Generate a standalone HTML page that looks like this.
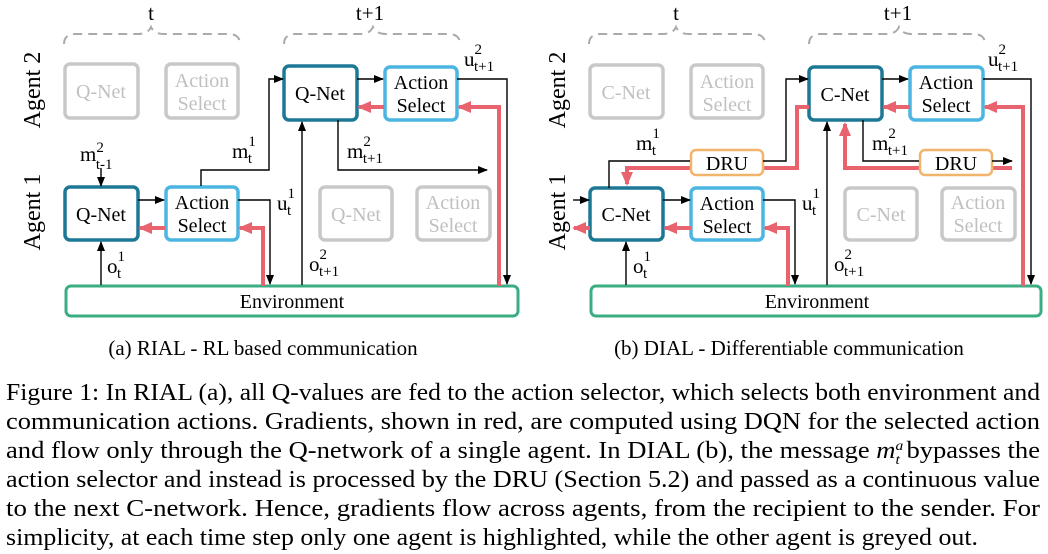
<!DOCTYPE html>
<html><head><meta charset="utf-8"><style>
html,body{margin:0;padding:0;background:#fff;}
svg{display:block;}
svg text, svg tspan{font-family:"Liberation Serif","Times New Roman",serif;}
</style></head><body>
<svg width="1048" height="554" viewBox="0 0 1048 554" xmlns="http://www.w3.org/2000/svg">
<defs>
<marker id="ab" markerWidth="10" markerHeight="8" refX="9" refY="4" orient="auto" markerUnits="userSpaceOnUse"><path d="M0,0 L10,4 L0,8 Z" fill="#000"/></marker>
<marker id="ar" markerWidth="14" markerHeight="12" refX="12" refY="6" orient="auto" markerUnits="userSpaceOnUse"><path d="M0,0 L14,6 L0,12 Z" fill="#e8636e"/></marker>
</defs>
<style>
.g{fill:#fff;stroke:#c8c8c8;stroke-width:3.5}
.gt{fill:#c0c0c0;font-size:20px;text-anchor:middle}
.d{fill:#fff;stroke:#1d7896;stroke-width:3.5}
.l{fill:#fff;stroke:#4cb6e2;stroke-width:3.5}
.bt{fill:#000;font-size:20px;text-anchor:middle}
.k{fill:none;stroke:#000;stroke-width:1.4}
.r{fill:none;stroke:#e8636e;stroke-width:4}
.env{fill:#fff;stroke:#3aae82;stroke-width:3}
.lb{font-size:21px;fill:#000}
.sb{font-size:15px}
.br{fill:none;stroke:#aaa;stroke-width:2;stroke-dasharray:9,6}
.o{fill:#fff;stroke:#f2b36a;stroke-width:2.5}
</style>

<!-- ===== LEFT PANEL ===== -->
<g>
<text x="151" y="20" class="lb" text-anchor="middle">t</text>
<path class="br" d="M64,44 Q64,34 76,34 L138,34 Q148,34 151,27 Q154,34 164,34 L228,34 Q240,34 240,44"/>
<text x="370" y="20" class="lb" text-anchor="middle">t+1</text>
<path class="br" d="M284,44 Q284,34 296,34 L360,34 Q370,34 373,27 Q376,34 386,34 L448,34 Q460,34 460,44"/>
<text transform="translate(40,90) rotate(-90)" font-size="24" text-anchor="middle">Agent 2</text>
<text transform="translate(40,212) rotate(-90)" font-size="24" text-anchor="middle">Agent 1</text>

<rect class="g" x="65" y="64" width="73" height="54" rx="5"/><text class="gt" x="101" y="98">Q-Net</text>
<rect class="g" x="166" y="64" width="72" height="54" rx="5"/><text class="gt" x="202" y="87">Action</text><text class="gt" x="202" y="110">Select</text>
<rect class="d" x="284" y="66" width="73" height="54" rx="5"/><text class="bt" x="320" y="100">Q-Net</text>
<rect class="l" x="385" y="67" width="72" height="53" rx="5"/><text class="bt" x="421" y="89">Action</text><text class="bt" x="421" y="112">Select</text>
<rect class="d" x="65" y="187" width="73" height="53" rx="5"/><text class="bt" x="101" y="221">Q-Net</text>
<rect class="l" x="166" y="187" width="72" height="53" rx="5"/><text class="bt" x="202" y="209">Action</text><text class="bt" x="202" y="232">Select</text>
<rect class="g" x="320" y="187" width="72" height="53" rx="5"/><text class="gt" x="356" y="221">Q-Net</text>
<rect class="g" x="417" y="187" width="73" height="53" rx="5"/><text class="gt" x="453" y="209">Action</text><text class="gt" x="453" y="232">Select</text>
<rect class="env" x="66" y="286" width="452" height="30" rx="5"/><text class="bt" x="292" y="308">Environment</text>

<line class="k" x1="138" y1="200" x2="164" y2="200" marker-end="url(#ab)"/>
<line class="r" x1="165" y1="228" x2="140" y2="228" marker-end="url(#ar)"/>
<line class="k" x1="101" y1="168" x2="101" y2="186" marker-end="url(#ab)"/>
<text x="80" y="161" class="lb">m<tspan class="sb" dy="-9">2</tspan><tspan class="sb" dx="-8" dy="17">t-1</tspan></text>
<line class="k" x1="101" y1="285" x2="101" y2="242" marker-end="url(#ab)"/>
<text x="107" y="273" class="lb">o<tspan class="sb" dy="-12">1</tspan><tspan class="sb" dx="-8" dy="17">t</tspan></text>
<path class="k" d="M238,200 L270,200 L270,284" marker-end="url(#ab)"/>
<text x="277" y="210" class="lb">u<tspan class="sb" dy="-12">1</tspan><tspan class="sb" dx="-8" dy="17">t</tspan></text>
<path class="r" d="M263,286 L263,228 L240,228" marker-end="url(#ar)"/>
<path class="k" d="M201,186 L201,170 L269,170 L269,79 L283,79" marker-end="url(#ab)"/>
<text x="232" y="158" class="lb">m<tspan class="sb" dy="-12">1</tspan><tspan class="sb" dx="-8" dy="17">t</tspan></text>
<line class="k" x1="357" y1="79" x2="383" y2="79" marker-end="url(#ab)"/>
<line class="r" x1="384" y1="107" x2="359" y2="107" marker-end="url(#ar)"/>
<path class="k" d="M457,79 L507,79 L507,284" marker-end="url(#ab)"/>
<text x="464" y="66" class="lb">u<tspan class="sb" dy="-12">2</tspan><tspan class="sb" dx="-8" dy="17">t+1</tspan></text>
<path class="r" d="M499,286 L499,107 L459,107" marker-end="url(#ar)"/>
<line class="k" x1="302" y1="285" x2="302" y2="122" marker-end="url(#ab)"/>
<text x="309" y="271" class="lb">o<tspan class="sb" dy="-12">2</tspan><tspan class="sb" dx="-8" dy="17">t+1</tspan></text>
<path class="k" d="M338,120 L338,170 L487,170" marker-end="url(#ab)"/>
<text x="347" y="158" class="lb">m<tspan class="sb" dy="-12">2</tspan><tspan class="sb" dx="-8" dy="17">t+1</tspan></text>
<text x="263" y="355" font-size="21" text-anchor="middle">(a) RIAL - RL based communication</text>
</g>

<!-- ===== RIGHT PANEL ===== -->
<g>
<text x="676" y="20" class="lb" text-anchor="middle">t</text>
<path class="br" d="M589,44 Q589,34 601,34 L663,34 Q673,34 676,27 Q679,34 689,34 L753,34 Q765,34 765,44"/>
<text x="898" y="20" class="lb" text-anchor="middle">t+1</text>
<path class="br" d="M809,44 Q809,34 821,34 L886,34 Q896,34 899,27 Q902,34 912,34 L973,34 Q985,34 985,44"/>
<text transform="translate(565,90) rotate(-90)" font-size="24" text-anchor="middle">Agent 2</text>
<text transform="translate(565,212) rotate(-90)" font-size="24" text-anchor="middle">Agent 1</text>

<rect class="g" x="590" y="65" width="73" height="53" rx="5"/><text class="gt" x="626" y="99">C-Net</text>
<rect class="g" x="691" y="65" width="72" height="53" rx="5"/><text class="gt" x="727" y="88">Action</text><text class="gt" x="727" y="111">Select</text>
<rect class="d" x="809" y="67" width="73" height="53" rx="5"/><text class="bt" x="845" y="101">C-Net</text>
<rect class="l" x="910" y="67" width="73" height="53" rx="5"/><text class="bt" x="946" y="89">Action</text><text class="bt" x="946" y="112">Select</text>
<rect class="d" x="590" y="188" width="73" height="52" rx="5"/><text class="bt" x="626" y="221">C-Net</text>
<rect class="l" x="691" y="188" width="72" height="52" rx="5"/><text class="bt" x="727" y="210">Action</text><text class="bt" x="727" y="233">Select</text>
<rect class="g" x="845" y="188" width="72" height="52" rx="5"/><text class="gt" x="881" y="221">C-Net</text>
<rect class="g" x="942" y="188" width="73" height="52" rx="5"/><text class="gt" x="978" y="209">Action</text><text class="gt" x="978" y="232">Select</text>
<rect class="env" x="591" y="286" width="450" height="30" rx="5"/><text class="bt" x="817" y="308">Environment</text>

<path class="r" d="M809,107 L797,107 L797,168 L627,168 L627,184" marker-end="url(#ar)"/>
<path class="r" d="M1012,168 L845,168 L845,124" marker-end="url(#ar)"/>
<rect class="o" x="691" y="150" width="72" height="25" rx="5"/><text class="bt" x="727" y="170">DRU</text>
<rect class="o" x="920" y="150" width="72" height="25" rx="5"/><text class="bt" x="956" y="170">DRU</text>

<path class="k" d="M609,188 L609,161 L690,161"/>
<path class="k" d="M763,161 L786,161 L786,79 L808,79" marker-end="url(#ab)"/>
<text x="636" y="150" class="lb">m<tspan class="sb" dy="-12">1</tspan><tspan class="sb" dx="-8" dy="17">t</tspan></text>
<path class="k" d="M863,120 L863,161 L919,161"/>
<line class="k" x1="992" y1="161" x2="1012" y2="161" marker-end="url(#ab)"/>
<text x="872" y="150" class="lb">m<tspan class="sb" dy="-12">2</tspan><tspan class="sb" dx="-8" dy="17">t+1</tspan></text>

<line class="k" x1="573" y1="200" x2="589" y2="200" marker-end="url(#ab)"/>
<line class="r" x1="590" y1="228" x2="574" y2="228" marker-end="url(#ar)"/>
<line class="k" x1="663" y1="200" x2="690" y2="200" marker-end="url(#ab)"/>
<line class="r" x1="691" y1="228" x2="665" y2="228" marker-end="url(#ar)"/>
<line class="k" x1="626" y1="285" x2="626" y2="242" marker-end="url(#ab)"/>
<text x="633" y="273" class="lb">o<tspan class="sb" dy="-12">1</tspan><tspan class="sb" dx="-8" dy="17">t</tspan></text>
<path class="k" d="M763,200 L795,200 L795,284" marker-end="url(#ab)"/>
<text x="802" y="210" class="lb">u<tspan class="sb" dy="-12">1</tspan><tspan class="sb" dx="-8" dy="17">t</tspan></text>
<path class="r" d="M788,286 L788,228 L765,228" marker-end="url(#ar)"/>
<line class="k" x1="882" y1="79" x2="908" y2="79" marker-end="url(#ab)"/>
<line class="r" x1="910" y1="107" x2="884" y2="107" marker-end="url(#ar)"/>
<path class="k" d="M983,79 L1031,79 L1031,284" marker-end="url(#ab)"/>
<text x="988" y="66" class="lb">u<tspan class="sb" dy="-12">2</tspan><tspan class="sb" dx="-8" dy="17">t+1</tspan></text>
<path class="r" d="M1023,286 L1023,107 L985,107" marker-end="url(#ar)"/>
<line class="k" x1="827" y1="285" x2="827" y2="122" marker-end="url(#ab)"/>
<text x="834" y="271" class="lb">o<tspan class="sb" dy="-12">2</tspan><tspan class="sb" dx="-8" dy="17">t+1</tspan></text>
<text x="789" y="355" font-size="21" text-anchor="middle">(b) DIAL - Differentiable communication</text>
</g>

<!-- caption -->
<g font-size="24">
<text x="6" y="400" textLength="1034" lengthAdjust="spacingAndGlyphs">Figure 1: In RIAL (a), all Q-values are fed to the action selector, which selects both environment and</text>
<text x="6" y="429" textLength="1034" lengthAdjust="spacingAndGlyphs">communication actions. Gradients, shown in red, are computed using DQN for the selected action</text>
<text x="6" y="458" textLength="1034" lengthAdjust="spacingAndGlyphs">and flow only through the Q-network of a single agent. In DIAL (b), the message <tspan font-style="italic">m</tspan><tspan font-size="14" font-style="italic" dy="-8">a</tspan><tspan font-size="14" font-style="italic" dx="-7" dy="14">t</tspan><tspan dy="-6"> bypasses the</tspan></text>
<text x="6" y="487" textLength="1034" lengthAdjust="spacingAndGlyphs">action selector and instead is processed by the DRU (Section 5.2) and passed as a continuous value</text>
<text x="6" y="516" textLength="1034" lengthAdjust="spacingAndGlyphs">to the next C-network. Hence, gradients flow across agents, from the recipient to the sender. For</text>
<text x="6" y="545" textLength="972" lengthAdjust="spacingAndGlyphs">simplicity, at each time step only one agent is highlighted, while the other agent is greyed out.</text>
</g>
</svg>
</body></html>
